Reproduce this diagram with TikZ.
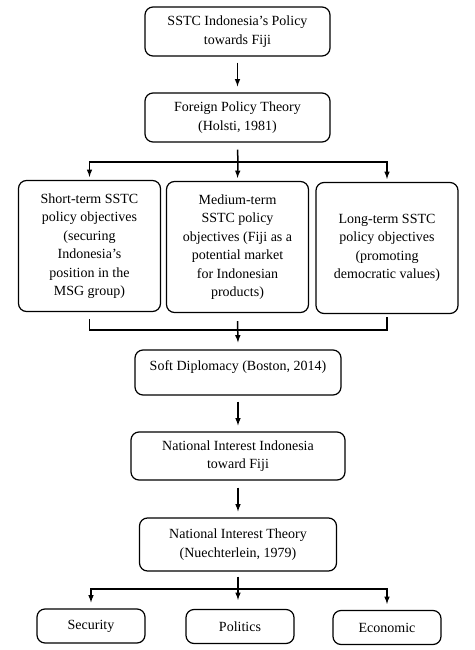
\documentclass[tikz,border=0pt]{standalone}
\usepackage{fontspec}
\setmainfont{Liberation Serif}
\usepackage{tikz}

\begin{document}
\begin{tikzpicture}
  [x=1pt,y=-1pt,>=latex,
   box/.style={rectangle,rounded corners=8pt,draw=black,line width=1.2pt,
               align=center,font=\fontsize{14}{18.5}\selectfont,inner sep=2pt},
   goal/.style={box,minimum width=142pt,minimum height=131pt},
   leaf/.style={box,minimum width=108pt,minimum height=34pt},
   link/.style={line width=1.5pt}]
  \useasboundingbox (0,0) rectangle (474,650);
%  top part
  \node[box,minimum width=185pt,minimum height=49pt] (policy) at (237.5,31.5)
    {SSTC Indonesia's Policy\\towards Fiji};
  \node[box,minimum width=185pt,minimum height=49pt] (theory) at (237.5,117.5)
    {Foreign Policy Theory\\(Holsti, 1981)};
  \node[goal] (short) at (89.5,246) {Short-term SSTC\\policy objectives\\(securing\\Indonesia’s\\position in the\\MSG group)};
  \node[goal] (medium) at (237.5,247) {Medium-term\\SSTC policy\\objectives (Fiji as a\\potential market\\for Indonesian\\products)};
  \node[goal] (long) at (387,248) {Long-term SSTC\\policy objectives\\(promoting\\democratic values)};
%  bottom part
  \node[box,minimum width=206pt,minimum height=45pt,text depth=13pt] (soft) at (238,372.5)
    {Soft Diplomacy (Boston, 2014)};
  \node[box,minimum width=214pt,minimum height=48pt] (natint) at (238,456)
    {National Interest Indonesia\\toward Fiji};
  \node[box,minimum width=197pt,minimum height=53pt] (nit) at (238,544.5)
    {National Interest Theory\\(Nuechterlein, 1979)};
  \node[leaf] (security) at (91,626) {Security};
  \node[leaf] (politics) at (240,626.5) {Politics};
  \node[leaf] (economic) at (387,627.5) {Economic};
  \coordinate (fork1) at (238,162);
  \coordinate (join) at (238,330);
  \coordinate (fork2) at (238,589);
  \draw[link,->,shorten <=6pt,shorten >=6pt] (policy) to (theory);
  \draw[link] ([yshift=-7pt]theory.south) to (fork1);
  \draw[link,->] (fork1) -| ([yshift=3pt]short.north);
  \draw[link,->] (fork1) to ([yshift=3pt]medium.north);
  \draw[link,->] (fork1) -| ([yshift=3pt]long.north);
  \draw[link] ([yshift=-7pt]short.south) |- (join);
  \draw[link] ([yshift=-3pt]long.south) |- (join);
  \draw[link,->] ([yshift=-8pt]medium.south) to ([yshift=7pt]soft.north);
  \draw[link,->,shorten <=6pt,shorten >=6pt] (soft) to (natint);
  \draw[link,->,shorten <=7pt,shorten >=6pt] (natint) to (nit);
  \draw[link,->] ([yshift=-5pt]nit.south) to ([yshift=9pt]nit.south |- politics.north);
  \draw[link,->] (fork2) -| ([yshift=6pt]security.north);
  \draw[link,->] (fork2) -| ([yshift=6pt]economic.north);
\end{tikzpicture}
\end{document}
